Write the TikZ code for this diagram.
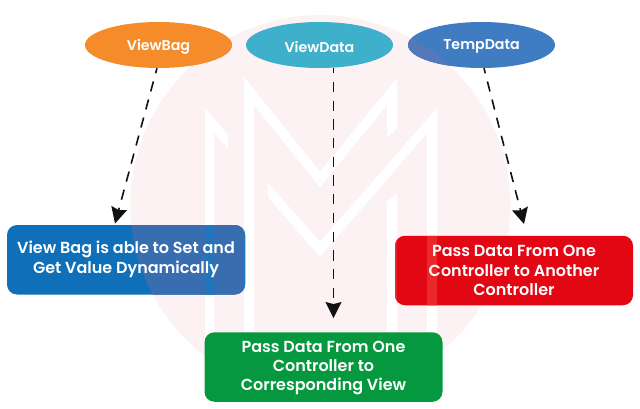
\documentclass[tikz,border=0pt]{standalone}
\usepackage{fontspec}
\setmainfont{Poppins}[UprightFont=* SemiBold]
\usetikzlibrary{arrows.meta,shapes.geometric}
\definecolor{pinkbg}{HTML}{FDF2F3}
\definecolor{cOrange}{HTML}{F68B2A}
\definecolor{cOrangeT}{HTML}{F58C30}
\definecolor{cTeal}{HTML}{3FB0CB}
\definecolor{cTemp}{HTML}{3F7CC1}
\definecolor{cTempT}{HTML}{5479B8}
\definecolor{cBlue}{HTML}{0F6FB8}
\definecolor{cBlueT}{HTML}{386DB0}
\definecolor{cBlueS}{HTML}{2075BE}
\definecolor{cGreen}{HTML}{06983F}
\definecolor{cRed}{HTML}{E30613}
\definecolor{cRedS}{HTML}{E8282A}
\definecolor{cArrow}{HTML}{111111}
\newcommand{\logoPath}{
  (205,108) -- (228,135) -- (228,148) -- (214,133) -- (214,345) -- (205,345) -- cycle
  (244,77) -- (320,172) -- (397,78) -- (397,128) -- (387,138) -- (387,105) -- (320,187) -- (254,105) -- (254,345) -- (244,345) -- cycle
  (268,183) -- (320,242) -- (437,108) -- (437,345) -- (427,345) -- (427,133) -- (320,257) -- (268,197) -- cycle
  (397,193) -- (397,345) -- (387,345) -- (387,202) -- cycle
}
\newcommand{\discPath}{(320.3,205) circle[radius=190]}
\tikzset{
  oval/.style={shape=ellipse,minimum width=147pt,minimum height=46pt,inner sep=0pt,text=white,font=\fontsize{14.2}{16}\selectfont},
  card/.style={shape=rectangle,minimum width=238pt,minimum height=69.5pt,inner sep=0pt,text=white,align=center,font=\fontsize{16}{19.4}\selectfont},
  flow/.style={draw=cArrow,line width=1.6pt,dash pattern=on 10.3pt off 8.4pt,dash phase=5pt,-{Stealth[length=16pt,width=16pt,inset=2pt]}},
}
\begin{document}
\begin{tikzpicture}[x=1pt,y=-1pt]
\useasboundingbox (0,0) rectangle (640,409);
\fill[white] (0,0) rectangle (640,409);
\fill[pinkbg] \discPath;
\fill[white] \logoPath;
% ellipses
\begin{scope}
  \clip (158.5,45) ellipse[x radius=73.5,y radius=23];
  \fill[cOrange] (80,20) rectangle (240,70);
  \fill[cOrangeT] \discPath;
\end{scope}
\fill[cTeal] (319.5,45) ellipse[x radius=73.5,y radius=23];
\begin{scope}
  \clip (481.5,45) ellipse[x radius=73.5,y radius=23];
  \fill[cTemp] (400,20) rectangle (560,70);
  \fill[cTempT] \discPath;
\end{scope}
% cards
\begin{scope}
  \clip[rounded corners=10pt] (7,225) rectangle (245,294.5);
  \fill[cBlue] (0,220) rectangle (250,300);
  \fill[cBlueT] \discPath;
  \fill[cBlueS] \logoPath;
\end{scope}
\fill[cGreen,rounded corners=10pt] (204.5,332.25) rectangle (442.5,401.75);
\begin{scope}
  \clip[rounded corners=10pt] (395,235.75) rectangle (633,305.25);
  \fill[cRed] (390,230) rectangle (640,310);
  \fill[cRedS] \logoPath;
\end{scope}
% labelled nodes
\node[oval] (bag) at (158.5,46.5) {ViewBag};
\node[oval] (data) at (319.5,46.5) {ViewData};
\node[oval] (temp) at (481.5,46.5) {TempData};
\node[card] (bagbox) at (126,259.5) {View Bag is able to Set and\\Get Value Dynamically};
\node[card] (databox) at (323.5,368) {Pass Data From One\\Controller to\\Corresponding View};
\node[card] (tempbox) at (514,270.5) {Pass Data From One\\Controller to Another\\Controller};
% connectors
\draw[flow] ([xshift=-1.5pt,yshift=1.5pt]bag.south) -- ([xshift=-11pt,yshift=1pt]bagbox.north);
\draw[flow] ([xshift=14pt,yshift=1.5pt]data.south) -- ([xshift=10pt,yshift=15pt]databox.north);
\draw[flow] ([xshift=2.5pt,yshift=1.5pt]temp.south) -- ([xshift=10pt,yshift=11.5pt]tempbox.north);
\end{tikzpicture}
\end{document}
